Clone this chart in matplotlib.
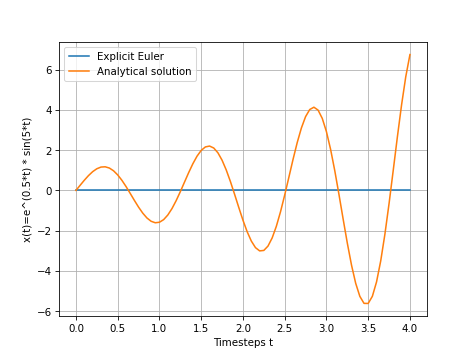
import numpy as np
import matplotlib
matplotlib.use("Agg")
import matplotlib.pyplot as plt

# timesteps, 0 .. 4 in steps of 0.05
t = np.linspace(0.0, 4.0, 81)

# explicit euler stays at zero
x_euler = [0.0] * 81

# analytical curve, values at each timestep
x_exact = [
    0.0, 0.2537, 0.5040, 0.7347, 0.9300, 1.0753, 1.1589, 1.1721, 1.1106, 0.9744,
    0.7685, 0.5025, 0.1905, -0.1498, -0.4978, -0.8317, -1.1290, -1.3690, -1.5330, -1.6069,
    -1.5810, -1.4520, -1.2228, -0.9033, -0.5091, -0.0620, 0.4120, 0.8838, 1.3231, 1.6995,
    1.9857, 2.1589, 2.2019, 2.1057, 1.8682, 1.4986, 1.0136, 0.4386, -0.1944, -0.8471,
    -1.4788, -2.0474, -2.5139, -2.8421, -3.0041, -2.9811, -2.7650, -2.3593, -1.7816, -1.0594,
    -0.2315, 0.6535, 1.5418, 2.3766, 3.1006, 3.6628, 4.0171, 4.1313, 3.9856, 3.5751,
    2.9145, 2.0315, 0.9729, -0.2029, -1.4260, -2.6194, -3.7063, -4.6106, -5.2626, -5.6102,
    -5.6142, -5.2583, -4.5433, -3.5002, -2.1782, -0.6482, 1.0016, 2.6721, 4.2559, 5.6471,
    6.7455,
]

# default 6.4x4.8 figure, scaled down to 474x355
fig = plt.figure(figsize=(6.4, 4.8), dpi=74.07)
plt.plot(t, x_euler, label='Explicit Euler')
plt.plot(t, x_exact, label='Analytical solution')
plt.xlabel('Timesteps t')
plt.ylabel('x(t)=e^(0.5*t) * sin(5*t)')
plt.grid(True)
plt.legend(loc='upper left')
plt.savefig('out.png', dpi=74.07)
